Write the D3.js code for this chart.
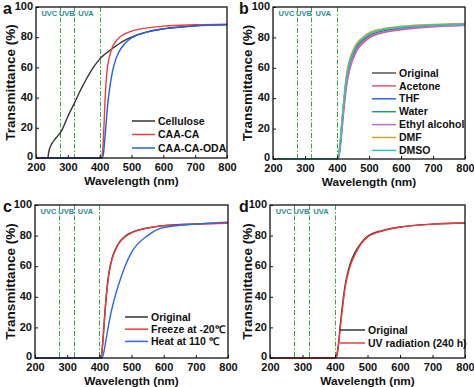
<!DOCTYPE html>
<html>
<head>
<meta charset="utf-8">
<script src="https://cdn.jsdelivr.net/npm/d3@7"></script>
<style>
  html, body { margin: 0; padding: 0; background: #fff; }
  svg { display: block; }
  text { font-family: "Liberation Sans", Arial, sans-serif; font-weight: bold; }
</style>
</head>
<body>
<svg id="chart" width="474" height="387"></svg>
<script>
// ---------------- DATA ----------------
const xTicks = [200, 300, 400, 500, 600, 700, 800];
const yTicks = [0, 20, 40, 60, 80, 100];
const uvBounds = [275, 320, 400];
const uvLabels = ["UVC", "UVB", "UVA"];
const uvLabelPos = [242, 297, 357];

// Panel a
const wlA = [200, 237, 240, 250, 260, 270, 280, 290, 300, 320, 340, 360, 380, 400, 404, 408, 412, 416, 420, 425, 430, 440, 450, 460, 480, 500, 550, 600, 700, 800];
const cellulose = [0, 0, 4, 9.5, 12.5, 15, 18, 22.5, 27.5, 36, 45, 53, 60, 65.5, 66.5, 67.3, 68, 68.7, 69.3, 70, 71, 72.5, 74, 75.5, 78, 80, 83.5, 85.5, 87.5, 88.3];
const caaCa = [0, 0, 0, 0, 0, 0, 0, 0, 0, 0, 0, 0, 0, 0, 0, 2, 14, 34, 50, 61, 66.5, 73.5, 77, 79.5, 82.3, 84, 86.2, 87.3, 88.2, 88.6];
const caaCaOda = [0, 0, 0, 0, 0, 0, 0, 0, 0, 0, 0, 0, 0, 0, 0, 0, 3, 12, 22, 35, 44, 57, 65, 70, 76, 79.5, 83.5, 85.5, 87.5, 88.2];
const seriesNamesA = ["Cellulose", "CAA-CA", "CAA-CA-ODA"];

// Panel b
const wlB = [200, 400, 404, 408, 412, 416, 420, 425, 430, 440, 450, 460, 480, 500, 550, 600, 700, 800];
const bOriginal = [0, 0, 1, 6, 14, 24, 33, 43, 52, 62.5, 68.5, 73, 78, 81, 84.5, 86, 87.6, 88.3];
const bAcetone  = [0, 0, 0.5, 4, 11, 20, 29, 39, 48, 59, 65.5, 70.5, 76, 79.5, 83.3, 85, 87, 88];
const bTHF      = [0, 0, 1, 6.5, 15, 25, 34.5, 45, 54, 64, 70, 74.5, 79, 82, 85.2, 86.6, 88, 88.7];
const bWater    = [0, 0, 1, 6, 14.5, 24.5, 34, 44.5, 53.5, 63.5, 69.5, 74, 78.8, 81.8, 85, 86.4, 87.8, 88.5];
const bEthyl    = [0, 0, 0.5, 4.5, 12, 21, 30.5, 41, 50, 60.5, 66.5, 71.5, 77, 80.3, 83.8, 85.5, 87.2, 88];
const bDMF      = [0, 0, 1.5, 7.5, 17, 27.5, 37, 47.5, 56.5, 66, 71.5, 75.5, 80, 83, 86, 87.3, 88.5, 89.2];
const bDMSO     = [0, 0, 1, 6.5, 15, 25, 34.5, 45, 54, 64, 70, 74.3, 79, 82, 85.3, 86.7, 88, 88.8];
const seriesNamesB = ["Original", "Acetone", "THF", "Water", "Ethyl alcohol", "DMF", "DMSO"];

// Panel c
const wlC = [200, 402, 405, 408, 412, 416, 420, 425, 430, 440, 450, 460, 480, 500, 550, 600, 700, 800];
const cOriginal = [0, 0, 0.5, 4, 14, 26, 37, 48, 56, 65.5, 71, 75, 79.5, 82, 85, 86.5, 87.6, 88.2];
const cFreeze   = [0, 0, 0.5, 4, 13, 25, 36, 47, 55, 65, 70.5, 74.6, 79.2, 81.8, 84.9, 86.4, 87.5, 88];
const cHeat     = [0, 0, 0, 0, 2, 6, 11, 17, 23, 33, 41, 48, 60, 69, 80, 85.3, 87.5, 88.8];
const seriesNamesC = ["Original", "Freeze at -20\u2103", "Heat at 110 \u2103"];

// Panel d
const wlD = [200, 400, 404, 408, 412, 416, 420, 425, 430, 440, 450, 460, 480, 500, 550, 600, 700, 800];
const dOriginal = [0, 0, 1, 5, 12, 21, 29, 38, 46, 56.5, 63.5, 68.5, 75, 79.5, 83.5, 85.6, 87.5, 88.2];
const dUV       = [0, 0, 0.5, 4, 10.5, 19, 27, 36, 44.5, 55, 62, 67, 74.5, 79, 83.3, 85.5, 87.5, 88.2];
const seriesNamesD = ["Original", "UV radiation (240 h)"];

// ---------------- DRAWING ----------------
const svg = d3.select("#chart");

const panels = [
  { letter: "a", col: 0, box: { x: 36, y: 7, w: 191, h: 151 }, wl: wlA,
    series: [cellulose, caaCa, caaCaOda], names: seriesNamesA,
    colors: ["#333333", "#ee3b3b", "#1f5fe0"],
    legend: { x: 132, y: 121, dy: 13.5, len: 23 } },
  { letter: "b", col: 1, box: { x: 273, y: 7, w: 192, h: 152 }, wl: wlB,
    series: [bOriginal, bAcetone, bTHF, bWater, bEthyl, bDMF, bDMSO], names: seriesNamesB,
    colors: ["#555555", "#e8506a", "#2a6ad8", "#1fa06a", "#b06fd6", "#d4a520", "#2fc4c4"],
    legend: { x: 372, y: 73, dy: 12.9, len: 24 } },
  { letter: "c", col: 0, box: { x: 35, y: 205, w: 193, h: 153 }, wl: wlC,
    series: [cOriginal, cFreeze, cHeat], names: seriesNamesC,
    colors: ["#333333", "#ee3b3b", "#2a6ae0"],
    legend: { x: 125, y: 317, dy: 12.2, len: 23 } },
  { letter: "d", col: 1, box: { x: 270, y: 205, w: 195, h: 153 }, wl: wlD,
    series: [dOriginal, dUV], names: seriesNamesD,
    colors: ["#333333", "#ee3b3b"],
    legend: { x: 340, y: 330, dy: 13, len: 25 } }
];

panels.forEach(p => {
  const b = p.box;
  const colX = p.col === 0 ? 0 : 237;
  const g = svg.append("g").attr("transform", `translate(${b.x},${b.y})`);
  const x = d3.scaleLinear().domain([200, 800]).range([0, b.w]);
  const y = d3.scaleLinear().domain([0, 100]).range([b.h, 0]);
  const px = v => Math.round(x(v)) + 0.5;

  // UV region boundaries
  g.selectAll("line.uv").data(uvBounds).enter().append("line")
    .attr("class", "uv")
    .attr("x1", d => px(d)).attr("x2", d => px(d))
    .attr("y1", 0).attr("y2", b.h)
    .attr("stroke", "#3aa53a").attr("stroke-width", 1)
    .attr("stroke-dasharray", "5,2,1.5,2");
  g.selectAll("text.uv").data(uvLabels).enter().append("text")
    .attr("class", "uv")
    .attr("x", (d, i) => x(uvLabelPos[i])).attr("y", 9)
    .attr("text-anchor", "middle")
    .attr("font-size", 7.5).attr("fill", "#2a8c8c").text(d => d);

  // curves
  const line = d3.line().x((d, i) => x(p.wl[i])).y(d => y(d)).curve(d3.curveMonotoneX);
  p.series.forEach((s, i) => {
    g.append("path").datum(s).attr("d", line)
      .attr("fill", "none").attr("stroke", p.colors[i]).attr("stroke-width", 1.4);
  });

  // axes (inward ticks)
  const xAxis = d3.axisBottom(x).tickValues(xTicks).tickSize(-3).tickPadding(4).tickFormat(d3.format("d"));
  const yAxis = d3.axisLeft(y).tickValues(yTicks).tickSize(-3).tickPadding(3).tickFormat(d3.format("d"));
  const gx = g.append("g").attr("transform", `translate(0,${b.h})`).call(xAxis);
  const gy = g.append("g").call(yAxis);
  [gx, gy].forEach(ax => {
    ax.select(".domain").remove();
    ax.selectAll("line").attr("stroke", "#111").attr("stroke-width", 1);
    ax.selectAll("text").attr("font-size", 11).attr("fill", "#111")
      .style("font-family", "'Liberation Sans', Arial, sans-serif").style("font-weight", "bold");
  });
  gx.selectAll("text").attr("dy", "0.86em");
  gy.selectAll("text").attr("dy", d => d === 0 ? "0.1em" : "0.25em");

  // frame
  g.append("rect").attr("x", 0).attr("y", 0).attr("width", b.w).attr("height", b.h)
    .attr("fill", "none").attr("stroke", "#111").attr("stroke-width", 1.3);

  // axis titles
  g.append("text").attr("x", b.w / 2).attr("y", b.h + 26.8)
    .attr("text-anchor", "middle").attr("font-size", 11.8).attr("fill", "#111")
    .text("Wavelength (nm)");
  svg.append("text").attr("transform", `translate(${colX + 15},${b.y + b.h / 2}) rotate(-90)`)
    .attr("text-anchor", "middle").attr("font-size", 13.5).attr("fill", "#111")
    .text("Transmittance (%)");

  // panel letter
  svg.append("text").attr("x", colX + (p.col === 0 ? 3 : 2)).attr("y", b.y + 7)
    .attr("font-size", 16).attr("fill", "#111").text(p.letter);

  // legend
  const L = p.legend;
  p.names.forEach((n, i) => {
    const ly = L.y - b.y + i * L.dy;
    const lx = L.x - b.x;
    g.append("line").attr("x1", lx).attr("x2", lx + L.len).attr("y1", ly).attr("y2", ly)
      .attr("stroke", p.colors[i]).attr("stroke-width", 1.5);
    g.append("text").attr("x", lx + L.len + 3).attr("y", ly).attr("dy", "0.35em")
      .attr("font-size", 10.5).attr("fill", "#111").text(n);
  });
});
</script>
</body>
</html>
